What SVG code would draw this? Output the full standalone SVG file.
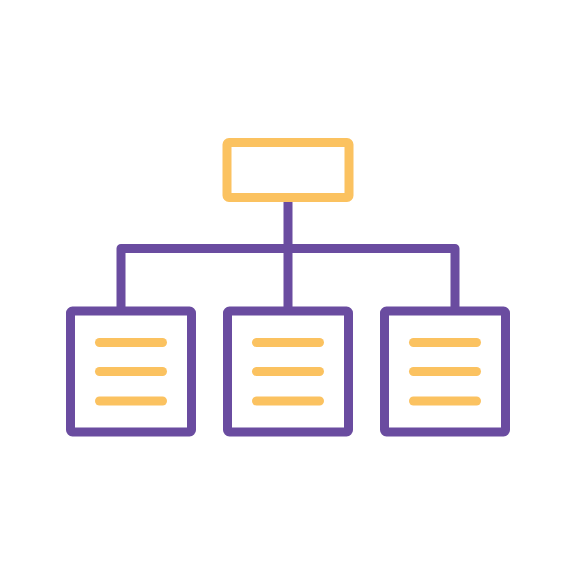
<svg xmlns="http://www.w3.org/2000/svg" width="576" height="576" viewBox="0 0 576 576">
<style>
.p{fill:none;stroke:#6a4ca0;stroke-width:9;stroke-linejoin:round}
.o{fill:none;stroke:#fbc260;stroke-width:9;stroke-linejoin:round}
.l{stroke:#fbc260;stroke-width:9;stroke-linecap:round}
</style>
<rect width="576" height="576" fill="#fff"/>
<g id="connectors">
<path class="p" d="M288 201V307M121 307V248.5H455V307"/>
</g>
<g id="top">
<rect class="o" x="227" y="142.5" width="122" height="55" rx="2"/>
</g>
<g id="left">
<rect class="p" x="70.5" y="311" width="121" height="121" rx="2"/>
<line class="l" x1="99.5" y1="342.5" x2="162.5" y2="342.5"/>
<line class="l" x1="99.5" y1="371.5" x2="162.5" y2="371.5"/>
<line class="l" x1="99.5" y1="401" x2="162.5" y2="401"/>
</g>
<g id="middle">
<rect class="p" x="227.5" y="311" width="121" height="121" rx="2"/>
<line class="l" x1="256.5" y1="342.5" x2="319.5" y2="342.5"/>
<line class="l" x1="256.5" y1="371.5" x2="319.5" y2="371.5"/>
<line class="l" x1="256.5" y1="401" x2="319.5" y2="401"/>
</g>
<g id="right">
<rect class="p" x="384.5" y="311" width="121" height="121" rx="2"/>
<line class="l" x1="413.5" y1="342.5" x2="476.5" y2="342.5"/>
<line class="l" x1="413.5" y1="371.5" x2="476.5" y2="371.5"/>
<line class="l" x1="413.5" y1="401" x2="476.5" y2="401"/>
</g>
</svg>
